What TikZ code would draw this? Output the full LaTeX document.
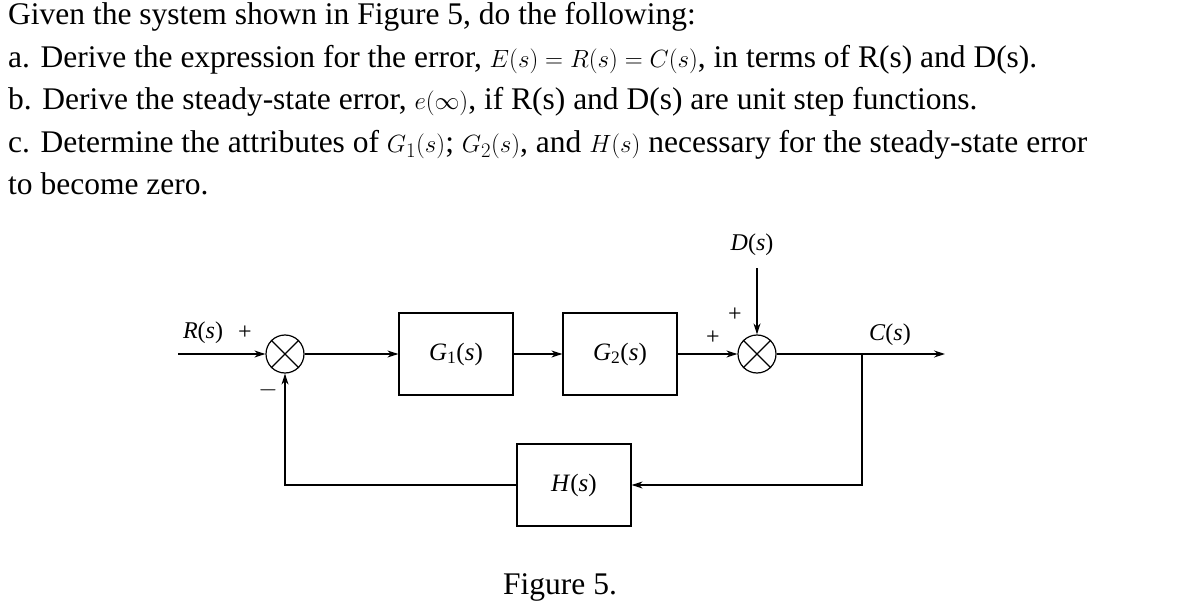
\documentclass[tikz,border=0pt]{standalone}
\usepackage{fontspec}
\setmainfont{Liberation Serif}
\usetikzlibrary{arrows.meta}
\newcommand{\iv}[1]{\textit{#1}}
\begin{document}
\begin{tikzpicture}[x=1pt,y=-1pt,
  txt/.style={anchor=base west,inner sep=0,font=\fontsize{31.5}{36}\selectfont},
  blk/.style={draw,line width=1.2pt,minimum width=114pt,minimum height=82pt,font=\fontsize{25}{28}\selectfont},
  sj/.style={draw,line width=1.2pt,circle,minimum size=38pt,inner sep=0},
  lab/.style={font=\fontsize{24}{26}\selectfont,inner sep=0},
  ar/.style={line width=1.2pt,-{Stealth[length=11pt,width=7pt]}},
  ln/.style={line width=1.2pt}]
\useasboundingbox (0,0) rectangle (1178,604);
\node[txt] (t1) at (8,25) {Given the system shown in Figure 5, do the following:};
\node[txt] (t2) at (8,68) {a. Derive the expression for the error, $E(s)=R(s)=C(s)$, in terms of R(s) and D(s).};
\node[txt] (t3) at (8,110) {b. Derive the steady-state error, $e(\infty)$, if R(s) and D(s) are unit step functions.};
\node[txt] (t4) at (8,153) {c. Determine the attributes of $G_1(s)$; $G_2(s)$, and $H(s)$ necessary for the steady-state error};
\node[txt] (t5) at (8,195) {to become zero.};
\node[sj] (s1) at (285,354) {};
\draw[ln] (s1.45)--(s1.225) (s1.135)--(s1.315);
\node[sj] (s2) at (757,354) {};
\draw[ln] (s2.45)--(s2.225) (s2.135)--(s2.315);
\node[blk] (g1) at (456,354) {\iv{G}\textsubscript{1}(\iv{s})};
\node[blk] (g2) at (620,354) {\iv{G}\textsubscript{2}(\iv{s})};
\node[blk] (h) at (574,485) {\iv{H}(\iv{s})};
\coordinate (in) at (178,354);
\coordinate (out) at (945,354);
\coordinate (tap) at (862,354);
\coordinate (dtop) at (757,268);
\node[lab] (R) at (203,333) {\iv{R}(\iv{s})};
\node[lab] (Rp) at (245,333) {+};
\node[lab] (Rm) at (268,390) {$-$};
\node[lab] (D) at (752,245) {\iv{D}(\iv{s})};
\node[lab] (Dp) at (735,315) {+};
\node[lab] (Gp) at (713,338) {+};
\node[lab] (C) at (890,335) {\iv{C}(\iv{s})};
\node[font=\fontsize{31.5}{36}\selectfont] (fig) at (560,587) {Figure 5.};
\draw[ar] (in)--(s1);
\draw[ar] (s1)--(g1);
\draw[ar] (g1)--(g2);
\draw[ar] (g2)--(s2);
\draw[ar] (dtop)--(s2);
\draw[ar] (s2)--(out);
\draw[ar] (tap)|-(h);
\draw[ar] (h)-|(s1);
\end{tikzpicture}
\end{document}
